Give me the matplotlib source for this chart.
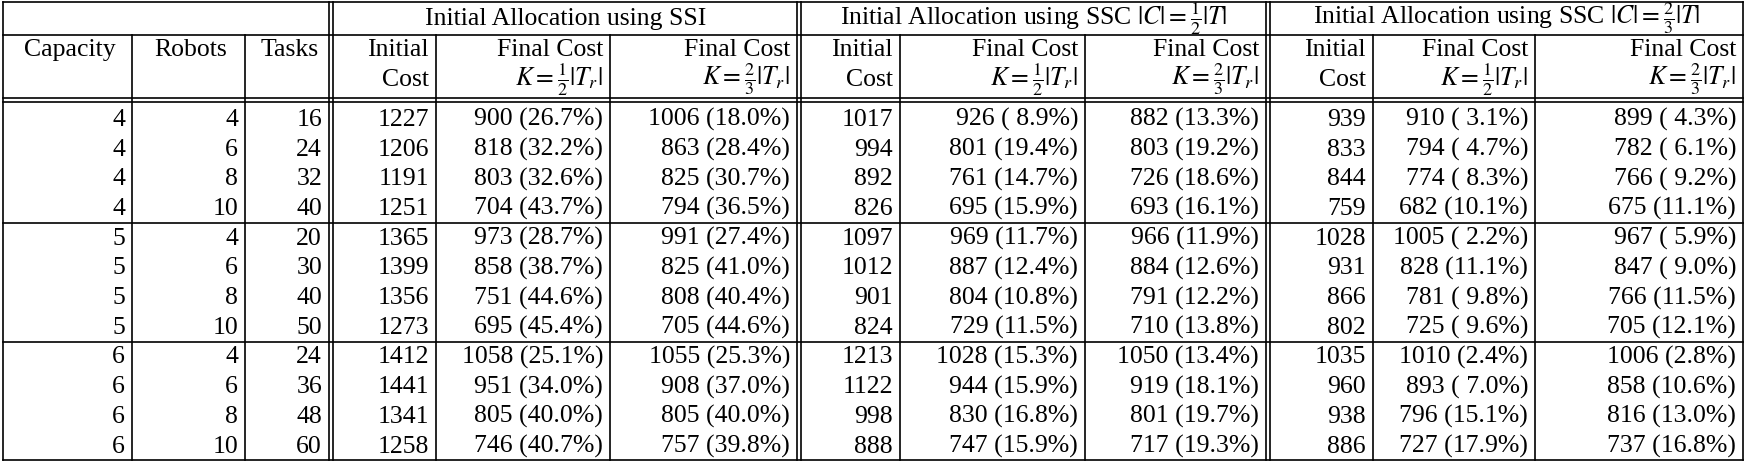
import matplotlib
matplotlib.use("Agg")
import matplotlib.pyplot as plt

plt.rcParams.update({"font.family": "Liberation Serif", "mathtext.fontset": "stix"})

capacity = [4, 4, 4, 4, 5, 5, 5, 5, 6, 6, 6, 6]
robots = [4, 6, 8, 10, 4, 6, 8, 10, 4, 6, 8, 10]
tasks = [16, 24, 32, 40, 20, 30, 40, 50, 24, 36, 48, 60]
ssi_init = [1227, 1206, 1191, 1251, 1365, 1399, 1356, 1273, 1412, 1441, 1341, 1258]
ssi_half = ["900 (26.7%)", "818 (32.2%)", "803 (32.6%)", "704 (43.7%)", "973 (28.7%)", "858 (38.7%)",
            "751 (44.6%)", "695 (45.4%)", "1058 (25.1%)", "951 (34.0%)", "805 (40.0%)", "746 (40.7%)"]
ssi_twothirds = ["1006 (18.0%)", "863 (28.4%)", "825 (30.7%)", "794 (36.5%)", "991 (27.4%)", "825 (41.0%)",
                 "808 (40.4%)", "705 (44.6%)", "1055 (25.3%)", "908 (37.0%)", "805 (40.0%)", "757 (39.8%)"]
ssc2_init = [1017, 994, 892, 826, 1097, 1012, 901, 824, 1213, 1122, 998, 888]
ssc2_half = ["926 ( 8.9%)", "801 (19.4%)", "761 (14.7%)", "695 (15.9%)", "969 (11.7%)", "887 (12.4%)",
             "804 (10.8%)", "729 (11.5%)", "1028 (15.3%)", "944 (15.9%)", "830 (16.8%)", "747 (15.9%)"]
ssc2_twothirds = ["882 (13.3%)", "803 (19.2%)", "726 (18.6%)", "693 (16.1%)", "966 (11.9%)", "884 (12.6%)",
                  "791 (12.2%)", "710 (13.8%)", "1050 (13.4%)", "919 (18.1%)", "801 (19.7%)", "717 (19.3%)"]
ssc3_init = [939, 833, 844, 759, 1028, 931, 866, 802, 1035, 960, 938, 886]
ssc3_half = ["910 ( 3.1%)", "794 ( 4.7%)", "774 ( 8.3%)", "682 (10.1%)", "1005 ( 2.2%)", "828 (11.1%)",
             "781 ( 9.8%)", "725 ( 9.6%)", "1010 (2.4%)", "893 ( 7.0%)", "796 (15.1%)", "727 (17.9%)"]
ssc3_twothirds = ["899 ( 4.3%)", "782 ( 6.1%)", "766 ( 9.2%)", "675 (11.1%)", "967 ( 5.9%)", "847 ( 9.0%)",
                  "766 (11.5%)", "705 (12.1%)", "1006 (2.8%)", "858 (10.6%)", "816 (13.0%)", "737 (16.8%)"]
groups = ["Initial Allocation using SSI",
          r"Initial Allocation using SSC $|C| = \frac{1}{2}|T|$",
          r"Initial Allocation using SSC $|C| = \frac{2}{3}|T|$"]

W, H = 1746, 464
fig = plt.figure(figsize=(W / 100, H / 100), dpi=100)
ax = fig.add_axes([0, 0, 1, 1]); ax.set_xlim(0, W); ax.set_ylim(H, 0); ax.axis("off")
FS = 18.5; lw = 1.2

# column edges (px); doubles drawn as pairs
edges = [3, 132, 245, 331, 436, 610, 799, 900, 1085, 1268, 1373, 1535, 1743]
doubles = [331, 799, 1268]
top, h1, h2, row0, rh = 3, 36, 101, 105, 29.7
bottom = row0 + rh * 12

def hline(y, x0=3, x1=1743):
    ax.plot([x0, x1], [y, y], color="black", lw=lw)
def vline(x, y0, y1):
    ax.plot([x, x], [y0, y1], color="black", lw=lw)

hline(top); hline(h1); hline(h2 - 2); hline(h2 + 2)
hline(row0 + 4 * rh); hline(row0 + 8 * rh); hline(bottom)
for x in edges:
    if x in doubles:
        vline(x - 2, top, bottom); vline(x + 2, top, bottom)
    elif x in (3, 1743):
        vline(x, top, bottom)
    else:
        vline(x, h1, bottom)

# header row 1
spans = [(335, 797), (801, 1266), (1270, 1743)]
for (a, b), g in zip(spans, groups):
    ax.text((a + b) / 2, 19, g, ha="center", va="center", fontsize=FS)

# header row 2
pad = 7
for j, t in enumerate(["Capacity", "Robots", "Tasks"]):
    ax.text((edges[j] + edges[j + 1]) / 2 + 2, 50, t, ha="center", va="center", fontsize=FS)
sub = [("Initial", "Cost"), ("Final Cost", r"$K = \frac{1}{2}|T_r|$"), ("Final Cost", r"$K = \frac{2}{3}|T_r|$")]
for g in range(3):
    for k in range(3):
        e = edges[4 + g * 3 + k]
        right = e - pad - (2 if e in doubles else 0)
        ax.text(right, 50, sub[k][0], ha="right", va="center", fontsize=FS)
        ax.text(right, 80, sub[k][1], ha="right", va="center", fontsize=FS)

cols = [capacity, robots, tasks, ssi_init, ssi_half, ssi_twothirds,
        ssc2_init, ssc2_half, ssc2_twothirds, ssc3_init, ssc3_half, ssc3_twothirds]
for j, col in enumerate(cols):
    e = edges[j + 1]
    right = e - pad - (2 if e in doubles else 0)
    for i, v in enumerate(col):
        ax.text(right, row0 + rh * (i + 0.5), str(v), ha="right", va="center", fontsize=FS)

fig.savefig("out.png", dpi=100)
